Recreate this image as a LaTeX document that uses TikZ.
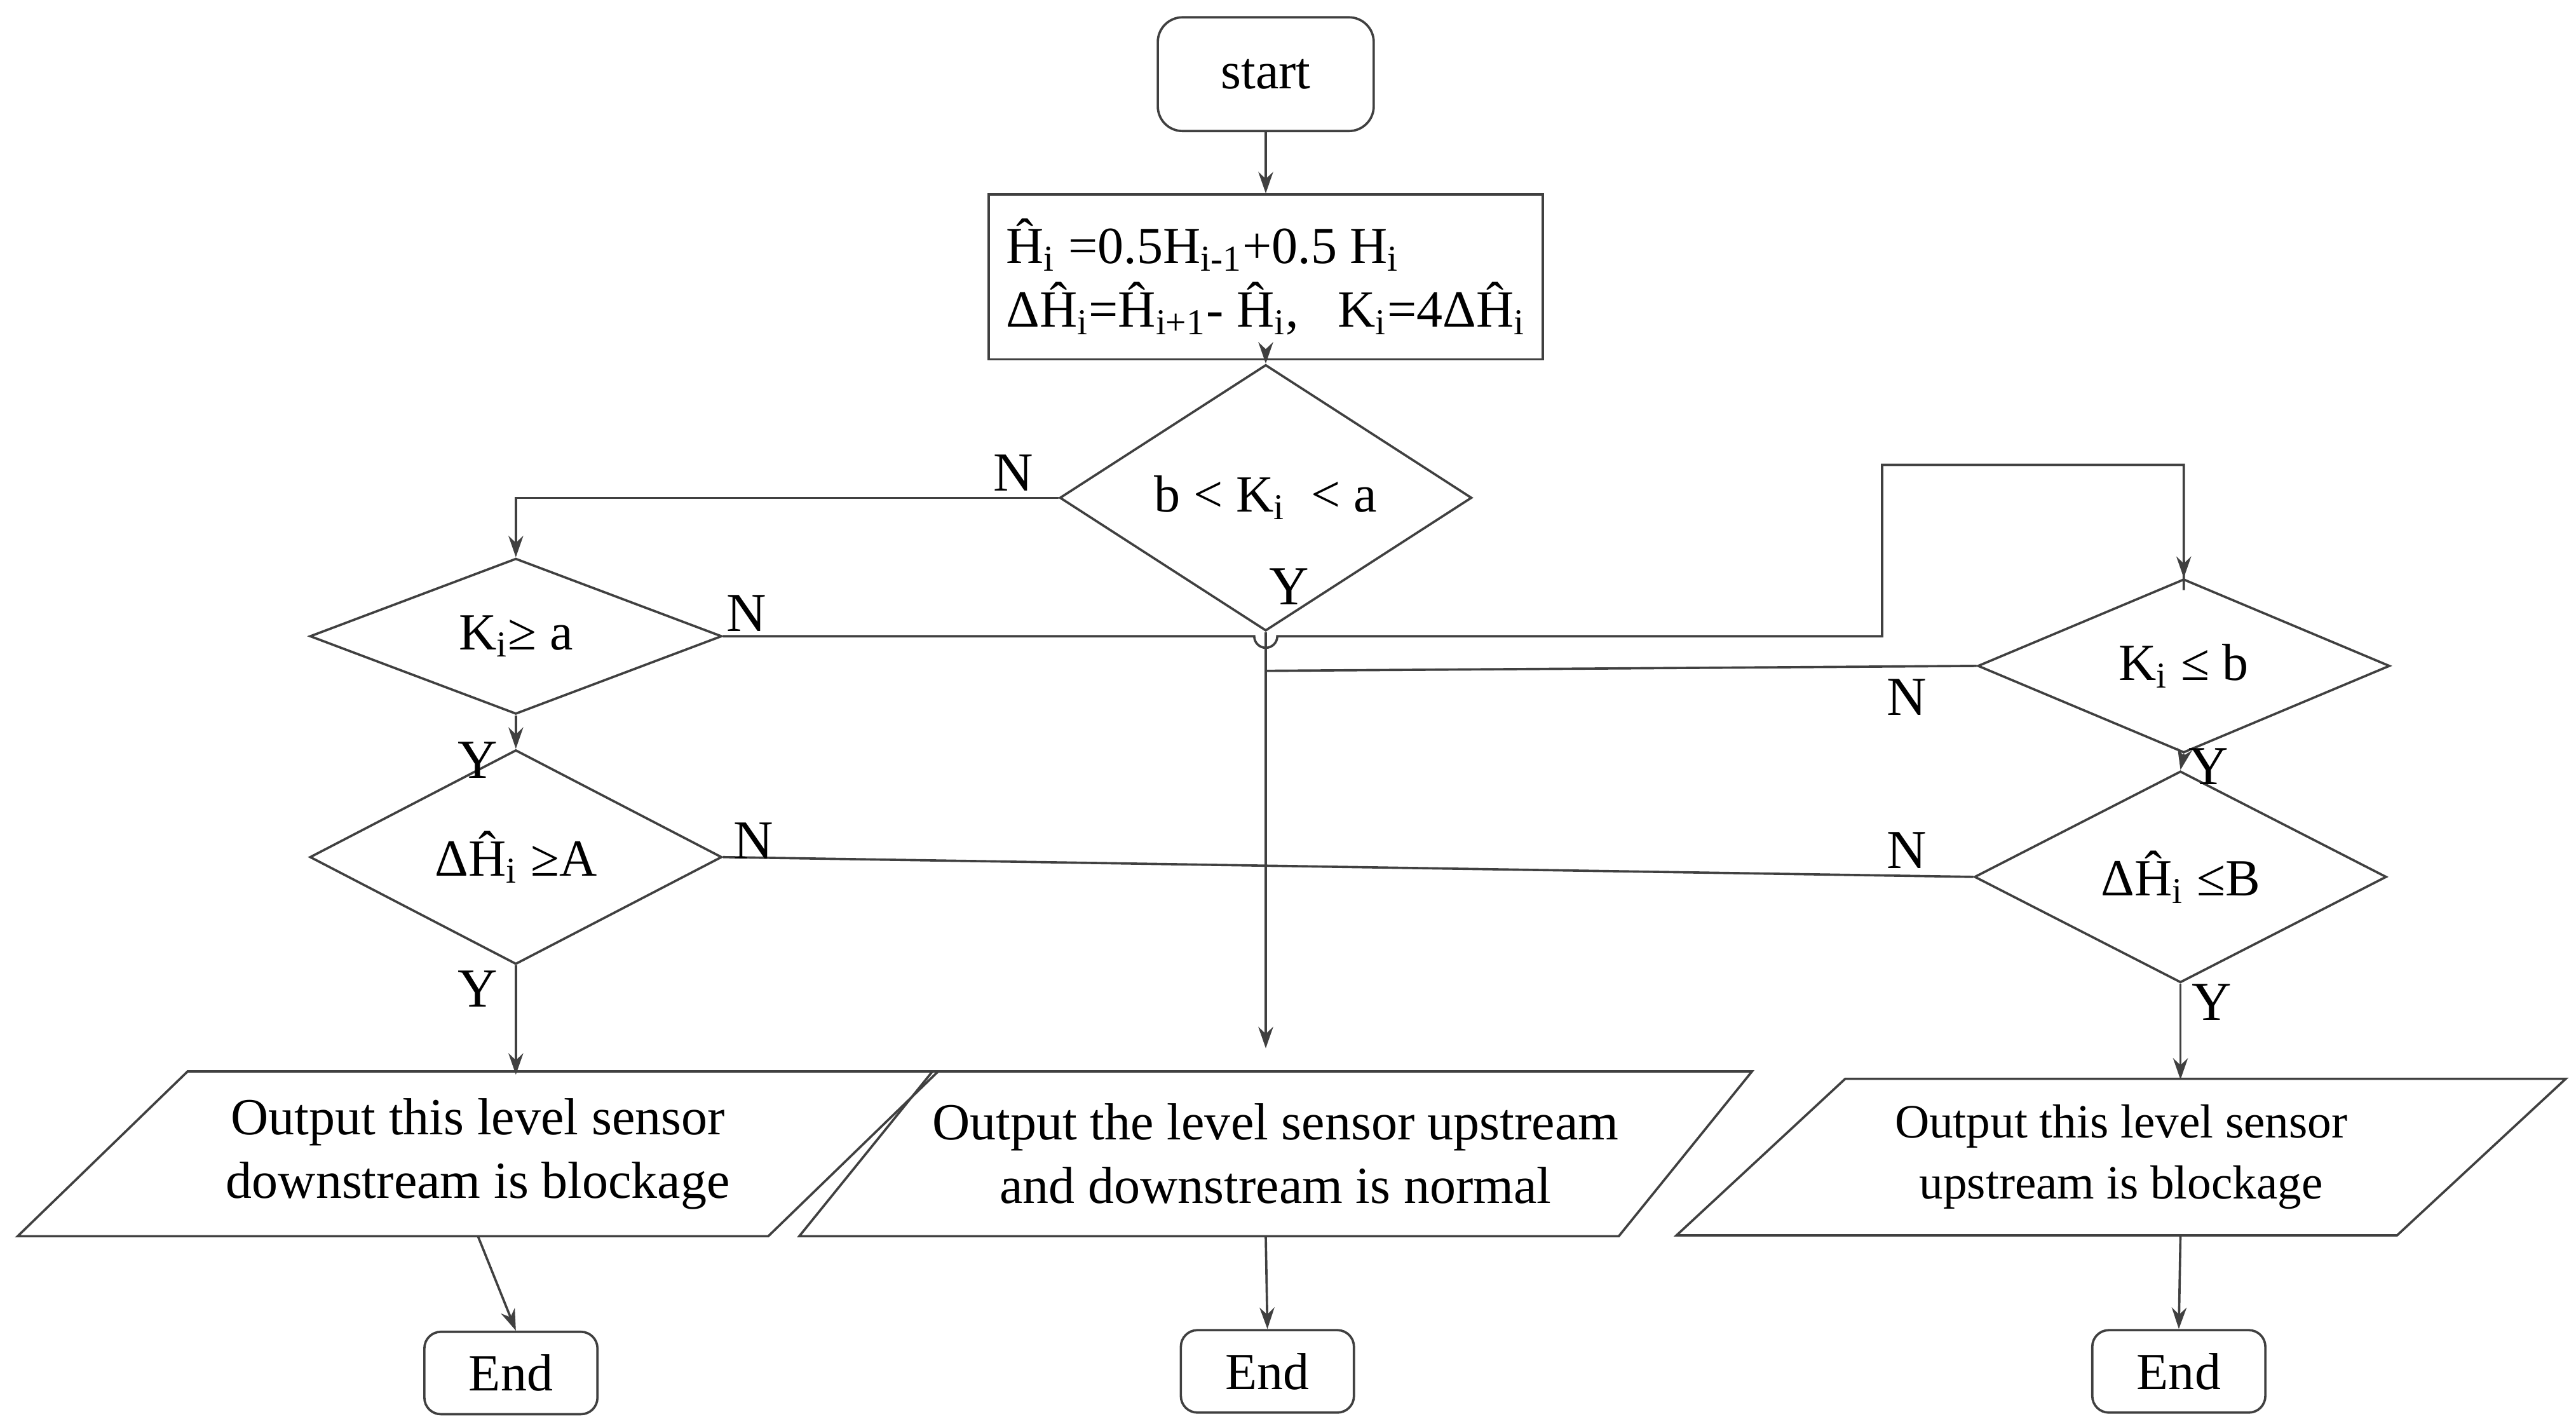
\documentclass[tikz,border=0pt]{standalone}
\usepackage{fontspec}
\setmainfont{Liberation Serif}
\usetikzlibrary{shapes.geometric,arrows.meta}
\begin{document}
\begin{tikzpicture}[x=0.2mm,y=-0.2mm,
  every node/.style={font=\fontsize{18}{22}\selectfont},
  line/.style={draw=black!75,line width=0.8pt},
  arr/.style={line,-{Stealth[length=2.6mm,width=1.8mm]}},
  term/.style={draw=black!75,line width=0.8pt,rounded corners=3mm,inner sep=0pt},
  dec/.style={diamond,draw=black!75,line width=0.8pt,inner sep=0pt,minimum width=50mm,minimum height=17.5mm},
  io/.style={trapezium,trapezium left angle=37,trapezium right angle=143,trapezium stretches=true,
    draw=black!75,line width=0.8pt,inner sep=0pt,minimum width=112mm,minimum height=20mm,align=center},
  lab/.style={font=\fontsize{19}{22}\selectfont}]
\useasboundingbox (0,0) rectangle (1563,865);
\node[term,minimum width=26.2mm,minimum height=13.8mm] (start) at (768,45) {start};
\node[draw=black!75,line width=0.8pt,minimum width=67.2mm,minimum height=20mm,align=left,inner sep=0pt] (calc) at (768,168)
 {\^{H}\textsubscript{i} =0.5H\textsubscript{i-1}+0.5 H\textsubscript{i}\\
  Δ\^{H}\textsubscript{i}=\^{H}\textsubscript{i+1}- \^{H}\textsubscript{i},\ \ \ K\textsubscript{i}=4Δ\^{H}\textsubscript{i}};
\node[dec] (d1) at (768,302) {b < K\textsubscript{i}\ \ < a};
\node[dec] (d2) at (313,386) {K\textsubscript{i}≥ a};
\node[dec,minimum height=19.8mm] (d3) at (313,520) {Δ\^{H}\textsubscript{i} ≥A};
\node[dec] (d4) at (1325,404) {K\textsubscript{i} ≤ b};
\node[dec] (d5) at (1323,532) {Δ\^{H}\textsubscript{i} ≤B};
\node[io] (o1) at (290,700) {Output this level sensor\\downstream is blockage};
\node[io,minimum width=113mm] (o2) at (774,700) {Output the level sensor upstream\\and downstream is normal};
\node[io,minimum width=108mm,minimum height=19mm,font=\fontsize{16.5}{21}\selectfont] (o3) at (1287,702) {Output this level sensor\\upstream is blockage};
\node[term,minimum width=21mm,minimum height=10mm,rounded corners=2mm] (e1) at (310,833) {End};
\node[term,minimum width=21mm,minimum height=10mm,rounded corners=2mm] (e2) at (769,832) {End};
\node[term,minimum width=21mm,minimum height=10mm,rounded corners=2mm] (e3) at (1322,832) {End};
\coordinate (m1) at (768,407);
\coordinate (t2) at (768,636);
% connectors
\draw[arr] (start) -- (calc);
\draw[arr] (calc) -- (d1);
\draw[arr] (d1.west) -| (d2.north);
\draw[arr] (d1.south) -- (t2);
\draw[line] (d2.east) -- (761,386) arc (180:0:7) -- (1142,386) -- (1142,282) -| (1325,358);
\draw[arr] (1325,340) -- (d4.north);
\draw[line] (d4.west) -- (m1);
\draw[arr] (d2.south) -- (d3.north);
\draw[arr] (d4.south) -- (d5.north);
\draw[line] (d3.east) -- (d5.west);
\draw[arr] (d3.south) -- (313,652);
\draw[arr] (d5.south) -- (1323,655);
\draw[arr] (290,750) -- (e1.north -| 313,0);
\draw[arr] (768,750) -- (e2.north);
\draw[arr] (1323,750) -- (e3.north);
% labels
\node[lab] at (615,287) {N};
\node[lab] at (782,356) {Y};
\node[lab] at (453,372) {N};
\node[lab] at (1157,423) {N};
\node[lab] at (290,461) {Y};
\node[lab] at (1340,465) {Y};
\node[lab] at (457,510) {N};
\node[lab] at (1157,516) {N};
\node[lab] at (290,600) {Y};
\node[lab] at (1342,608) {Y};
\end{tikzpicture}
\end{document}
